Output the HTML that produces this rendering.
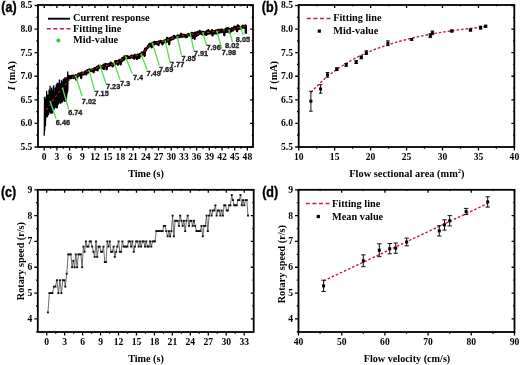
<!DOCTYPE html><html><head><meta charset="utf-8"><title>Figure</title><style>html,body{margin:0;padding:0;background:#fff;width:520px;height:365px;overflow:hidden}</style></head><body><svg width="520" height="365" viewBox="0 0 520 365" style="display:block">
<style>text{font-family:'Liberation Serif', 'Times New Roman', serif;font-weight:bold;fill:#000} .tk{font-size:9.6px} .al{font-size:10.2px} .lg{font-size:10.3px} .pl{font-family:'Liberation Sans', Arial, sans-serif;font-size:14.1px;font-weight:bold;stroke:#000;stroke-width:0.35px} .an{font-family:'Liberation Sans', Arial, sans-serif;font-size:7.3px;font-weight:bold;fill:#1a1a1a;stroke:#1a1a1a;stroke-width:0.3px}</style>
<rect width="520" height="365" fill="#fff"/>
<path d="M44.3 135.7 L44.5 97.5 L44.7 130.5 L45.0 99.8 L45.5 125.8 L45.6 101.7 L45.8 99.4 L45.9 109.2 L46.0 118.0 L46.1 97.0 L46.2 110.0 L46.4 111.2 L46.5 104.5 L46.6 91.4 L46.7 100.1 L46.8 111.9 L46.9 101.3 L47.1 116.4 L47.2 105.3 L47.3 100.6 L47.4 104.0 L47.5 116.7 L47.7 98.7 L47.8 107.1 L47.9 94.8 L48.0 111.8 L48.1 103.1 L48.2 99.6 L48.4 114.0 L48.5 102.9 L48.6 106.7 L48.7 114.6 L48.8 107.5 L49.0 94.4 L49.1 90.1 L49.2 99.8 L49.3 97.9 L49.4 104.0 L49.6 104.9 L49.7 89.9 L49.8 97.6 L49.9 92.2 L50.0 111.7 L50.1 86.1 L50.3 100.0 L50.4 112.7 L50.5 100.2 L50.6 91.3 L50.7 99.5 L50.9 103.6 L51.0 113.3 L51.1 101.9 L51.2 105.6 L51.3 113.3 L51.4 113.0 L51.6 88.2 L51.7 102.3 L51.8 90.4 L51.9 97.8 L52.0 103.9 L52.2 90.5 L52.3 112.2 L52.4 112.8 L52.5 91.4 L52.6 101.6 L52.8 112.2 L52.9 91.5 L53.0 93.1 L53.1 106.9 L53.2 107.3 L53.3 86.9 L53.5 102.8 L53.6 86.5 L53.7 85.7 L53.8 97.5 L53.9 91.7 L54.1 99.9 L54.2 101.0 L54.3 109.2 L54.4 96.9 L54.5 104.1 L54.6 92.7 L54.8 92.7 L54.9 101.6 L55.0 104.9 L55.1 107.2 L55.2 87.8 L55.4 93.9 L55.5 94.1 L55.6 103.3 L55.7 97.2 L55.8 92.6 L56.0 107.6 L56.1 89.0 L56.2 89.8 L56.3 84.8 L56.4 85.6 L56.5 84.5 L56.7 107.8 L56.8 101.8 L56.9 103.4 L57.0 107.2 L57.1 103.7 L57.3 107.5 L57.4 83.1 L57.5 86.4 L57.6 91.6 L57.7 92.5 L57.8 83.6 L58.0 84.9 L58.1 98.4 L58.2 104.3 L58.3 86.1 L58.4 84.3 L58.6 103.6 L58.7 83.6 L58.8 91.6 L58.9 90.6 L59.0 89.1 L59.2 84.7 L59.3 97.8 L59.4 80.0 L59.5 101.9 L59.6 88.9 L59.7 90.5 L59.9 95.9 L60.0 93.8 L60.1 103.0 L60.2 102.1 L60.3 83.6 L60.5 95.6 L60.6 99.7 L60.7 96.5 L60.8 103.0 L60.9 89.7 L61.0 102.9 L61.2 101.4 L61.3 101.3 L61.4 80.7 L61.5 96.5 L61.6 88.1 L61.8 93.5 L61.9 94.4 L62.0 101.6 L62.1 83.6 L62.2 86.2 L62.4 102.0 L62.5 84.0 L62.6 96.5 L62.7 81.9 L62.8 99.8 L62.9 82.7 L63.1 82.7 L63.2 79.2 L63.3 83.2 L63.4 86.5 L63.5 83.6 L63.7 84.5 L63.8 92.7 L63.9 100.8 L64.0 88.6 L64.1 88.4 L64.2 92.2 L64.4 79.6 L64.5 97.6 L64.6 77.9 L64.7 84.3 L64.8 79.6 L65.0 101.4 L65.1 97.5 L65.2 87.2 L65.3 83.3 L65.4 79.7 L65.6 82.8 L65.7 89.1 L65.8 92.5 L65.9 83.8 L66.0 100.9 L66.1 77.3 L66.3 93.4 L66.4 93.7 L66.5 97.6 L66.6 95.6 L66.7 80.7 L66.9 94.1 L67.0 92.4 L67.1 91.9 L67.2 85.1 L67.3 89.1 L67.4 79.0 L67.6 92.0 L67.7 72.0 L67.8 90.0 L67.9 87.6 L68.0 81.3" fill="none" stroke="#000" stroke-width="1.3" stroke-linejoin="round"/>
<path d="M68.2 80.9 L68.5 76.0 L68.8 77.8 L69.0 77.2 L69.3 78.1 L69.6 78.0 L69.9 76.1 L70.2 77.4 L70.5 77.0 L70.8 77.2 L71.1 78.1 L71.4 77.0 L71.7 75.9 L72.0 77.4 L72.3 76.3 L72.6 75.8 L72.9 77.6 L73.2 75.9 L73.5 78.1 L73.8 76.0 L74.1 76.8 L74.4 77.4 L74.7 76.5 L75.0 76.9 L75.3 77.7 L75.6 75.4 L75.9 75.2 L76.2 79.6 L76.5 75.9 L76.8 76.4 L77.0 76.5 L77.3 75.5 L77.6 76.7 L77.9 75.8 L78.2 74.4 L78.5 73.7 L78.8 74.5 L79.1 75.4 L79.4 74.7 L79.7 74.5 L80.0 74.5 L80.3 73.4 L80.6 74.2 L80.9 73.4 L81.2 78.0 L81.5 72.8 L81.8 74.6 L82.1 74.5 L82.4 74.1 L82.7 72.8 L83.0 72.8 L83.3 74.4 L83.6 74.4 L83.9 73.0 L84.2 72.7 L84.5 72.5 L84.8 73.3 L85.0 73.1 L85.3 71.5 L85.6 72.8 L85.9 72.2 L86.2 74.2 L86.5 72.6 L86.8 72.4 L87.1 72.7 L87.4 70.1 L87.7 71.5 L88.0 72.6 L88.3 70.9 L88.6 70.9 L88.9 70.7 L89.2 69.4 L89.5 70.6 L89.8 70.4 L90.1 70.9 L90.4 71.0 L90.7 70.1 L91.0 70.1 L91.3 70.6 L91.6 70.2 L91.9 69.6 L92.2 69.5 L92.5 69.9 L92.8 71.1 L93.0 69.1 L93.3 69.5 L93.6 72.1 L93.9 68.8 L94.2 68.6 L94.5 68.3 L94.8 69.0 L95.1 69.9 L95.4 68.2 L95.7 68.0 L96.0 68.4 L96.3 67.7 L96.6 69.3 L96.9 66.9 L97.2 67.6 L97.5 70.4 L97.8 67.3 L98.1 68.6 L98.4 66.3 L98.7 67.1 L99.0 65.8 L99.3 67.3 L99.6 67.6 L99.9 66.5 L100.2 65.9 L100.5 66.8 L100.8 66.2 L101.0 66.3 L101.3 66.2 L101.6 67.9 L101.9 66.5 L102.2 67.8 L102.5 66.8 L102.8 68.2 L103.1 65.4 L103.4 66.6 L103.7 65.4 L104.0 69.0 L104.3 64.5 L104.6 65.6 L104.9 65.2 L105.2 65.8 L105.5 64.1 L105.8 65.7 L106.1 64.5 L106.4 64.3 L106.7 69.3 L107.0 64.5 L107.3 66.1 L107.6 65.9 L107.9 64.4 L108.2 64.8 L108.5 64.2 L108.8 64.1 L109.0 65.7 L109.3 65.5 L109.6 64.7 L109.9 64.8 L110.2 64.0 L110.5 65.1 L110.8 62.7 L111.1 64.5 L111.4 63.2 L111.7 65.3 L112.0 64.0 L112.3 65.7 L112.6 66.3 L112.9 64.0 L113.2 64.4 L113.5 64.8 L113.8 64.9 L114.1 64.0 L114.4 64.1 L114.7 63.0 L115.0 64.4 L115.3 61.2 L115.6 63.3 L115.9 61.3 L116.2 63.2 L116.5 62.3 L116.8 63.0 L117.0 60.9 L117.3 61.6 L117.6 62.7 L117.9 64.6 L118.2 62.0 L118.5 61.3 L118.8 61.7 L119.1 61.5 L119.4 60.1 L119.7 60.0 L120.0 60.8 L120.3 61.4 L120.6 64.4 L120.9 60.0 L121.2 59.9 L121.5 60.2 L121.8 60.3 L122.1 61.1 L122.4 57.9 L122.7 58.2 L123.0 59.8 L123.3 59.1 L123.6 59.1 L123.9 59.1 L124.2 59.5 L124.5 56.5 L124.8 58.4 L125.1 57.5 L125.3 58.1 L125.6 57.6 L125.9 56.4 L126.2 57.6 L126.5 56.4 L126.8 58.1 L127.1 56.9 L127.4 56.3 L127.7 56.7 L128.0 57.9 L128.3 58.0 L128.6 57.5 L128.9 57.7 L129.2 56.8 L129.5 57.2 L129.8 57.6 L130.1 57.9 L130.4 57.4 L130.7 56.8 L131.0 56.1 L131.3 56.3 L131.6 56.0 L131.9 55.5 L132.2 56.1 L132.5 57.6 L132.8 56.5 L133.1 57.4 L133.3 56.1 L133.6 57.6 L133.9 56.1 L134.2 58.6 L134.5 56.6 L134.8 55.0 L135.1 56.7 L135.4 56.5 L135.7 56.7 L136.0 55.7 L136.3 56.4 L136.6 57.3 L136.9 58.7 L137.2 56.9 L137.5 54.6 L137.8 58.2 L138.1 55.7 L138.4 55.8 L138.7 54.9 L139.0 55.4 L139.3 57.8 L139.6 54.2 L139.9 54.9 L140.2 56.0 L140.5 54.9 L140.8 54.5 L141.1 54.3 L141.3 55.4 L141.6 52.6 L141.9 54.1 L142.2 52.7 L142.5 54.3 L142.8 53.4 L143.1 53.4 L143.4 53.1 L143.7 53.7 L144.0 51.5 L144.3 52.0 L144.6 55.8 L144.9 49.9 L145.2 48.7 L145.5 49.4 L145.8 49.4 L146.1 50.2 L146.4 48.7 L146.7 48.2 L147.0 47.8 L147.3 47.7 L147.6 47.8 L147.9 46.3 L148.2 46.6 L148.5 45.5 L148.8 46.7 L149.1 45.5 L149.3 44.4 L149.6 44.1 L149.9 45.9 L150.2 44.9 L150.5 45.0 L150.8 43.6 L151.1 44.1 L151.4 44.9 L151.7 47.2 L152.0 44.0 L152.3 44.5 L152.6 42.9 L152.9 43.0 L153.2 43.1 L153.5 44.3 L153.8 43.8 L154.1 42.0 L154.4 44.2 L154.7 42.6 L155.0 43.3 L155.3 42.6 L155.6 42.2 L155.9 42.5 L156.2 42.1 L156.5 43.6 L156.8 43.6 L157.1 44.1 L157.3 42.2 L157.6 42.7 L157.9 42.5 L158.2 42.0 L158.5 45.0 L158.8 42.2 L159.1 41.4 L159.4 41.8 L159.7 41.8 L160.0 42.4 L160.3 41.6 L160.6 41.1 L160.9 42.1 L161.2 41.7 L161.5 41.9 L161.8 41.8 L162.1 41.2 L162.4 44.3 L162.7 42.6 L163.0 42.2 L163.3 42.1 L163.6 42.1 L163.9 42.3 L164.2 41.3 L164.5 40.5 L164.8 40.7 L165.1 41.6 L165.3 40.9 L165.6 40.6 L165.9 42.2 L166.2 39.7 L166.5 41.0 L166.8 41.4 L167.1 38.0 L167.4 40.9 L167.7 40.2 L168.0 40.5 L168.3 39.0 L168.6 39.9 L168.9 40.8 L169.2 44.2 L169.5 38.9 L169.8 38.2 L170.1 38.4 L170.4 39.6 L170.7 39.0 L171.0 37.6 L171.3 39.7 L171.6 38.8 L171.9 38.3 L172.2 37.5 L172.5 38.3 L172.8 38.1 L173.1 38.9 L173.3 37.4 L173.6 38.5 L173.9 35.9 L174.2 37.5 L174.5 37.0 L174.8 37.7 L175.1 37.6 L175.4 36.7 L175.7 37.6 L176.0 37.2 L176.3 37.2 L176.6 36.6 L176.9 36.5 L177.2 36.8 L177.5 36.0 L177.8 35.4 L178.1 37.2 L178.4 37.1 L178.7 37.1 L179.0 37.1 L179.3 37.0 L179.6 36.3 L179.9 35.7 L180.2 36.9 L180.5 35.9 L180.8 36.6 L181.1 34.0 L181.3 35.9 L181.6 35.5 L181.9 36.8 L182.2 36.7 L182.5 35.8 L182.8 36.5 L183.1 35.9 L183.4 34.8 L183.7 36.4 L184.0 36.4 L184.3 35.5 L184.6 35.9 L184.9 35.1 L185.2 35.7 L185.5 36.4 L185.8 37.2 L186.1 35.1 L186.4 35.9 L186.7 35.2 L187.0 36.8 L187.3 35.9 L187.6 34.9 L187.9 34.3 L188.2 34.2 L188.5 34.0 L188.8 35.0 L189.1 34.2 L189.3 34.6 L189.6 35.1 L189.9 35.2 L190.2 35.4 L190.5 33.9 L190.8 34.7 L191.1 35.3 L191.4 34.7 L191.7 33.0 L192.0 35.7 L192.3 38.0 L192.6 34.2 L192.9 33.8 L193.2 34.6 L193.5 34.5 L193.8 33.7 L194.1 33.1 L194.4 33.0 L194.7 38.7 L195.0 34.4 L195.3 34.3 L195.6 32.7 L195.9 33.7 L196.2 33.0 L196.5 35.9 L196.8 34.2 L197.1 33.6 L197.3 34.1 L197.6 32.0 L197.9 34.7 L198.2 33.3 L198.5 32.9 L198.8 34.3 L199.1 32.8 L199.4 33.2 L199.7 31.0 L200.0 32.2 L200.3 33.4 L200.6 32.5 L200.9 33.0 L201.2 33.7 L201.5 32.7 L201.8 32.8 L202.1 31.8 L202.4 34.3 L202.7 34.2 L203.0 33.7 L203.3 32.5 L203.6 32.1 L203.9 33.1 L204.2 32.7 L204.5 32.8 L204.8 34.2 L205.1 33.5 L205.4 32.0 L205.6 32.0 L205.9 31.7 L206.2 34.9 L206.5 33.2 L206.8 31.2 L207.1 32.3 L207.4 31.3 L207.7 32.4 L208.0 33.8 L208.3 30.1 L208.6 31.3 L208.9 33.1 L209.2 33.3 L209.5 32.0 L209.8 31.8 L210.1 32.8 L210.4 32.1 L210.7 33.2 L211.0 32.5 L211.3 33.2 L211.6 31.8 L211.9 30.3 L212.2 32.5 L212.5 35.3 L212.8 32.1 L213.1 32.9 L213.4 31.5 L213.6 32.6 L213.9 31.2 L214.2 31.2 L214.5 33.2 L214.8 31.3 L215.1 33.4 L215.4 30.9 L215.7 33.4 L216.0 32.4 L216.3 30.4 L216.6 31.3 L216.9 30.9 L217.2 33.5 L217.5 30.7 L217.8 32.1 L218.1 29.9 L218.4 31.3 L218.7 31.4 L219.0 32.6 L219.3 32.0 L219.6 31.2 L219.9 30.0 L220.2 30.1 L220.5 31.3 L220.8 32.1 L221.1 32.1 L221.4 29.6 L221.6 30.8 L221.9 31.9 L222.2 29.7 L222.5 30.5 L222.8 30.2 L223.1 30.1 L223.4 30.5 L223.7 31.2 L224.0 32.2 L224.3 35.1 L224.6 30.6 L224.9 31.9 L225.2 31.4 L225.5 29.1 L225.8 30.9 L226.1 31.8 L226.4 31.1 L226.7 28.2 L227.0 31.3 L227.3 30.6 L227.6 31.7 L227.9 30.0 L228.2 29.3 L228.5 28.3 L228.8 30.1 L229.1 31.3 L229.4 31.0 L229.6 30.2 L229.9 32.8 L230.2 29.3 L230.5 30.4 L230.8 29.6 L231.1 28.9 L231.4 31.1 L231.7 30.3 L232.0 28.2 L232.3 30.3 L232.6 29.7 L232.9 29.6 L233.2 30.2 L233.5 28.7 L233.8 28.4 L234.1 29.2 L234.4 26.6 L234.7 27.8 L235.0 28.4 L235.3 27.6 L235.6 28.2 L235.9 29.1 L236.2 28.6 L236.5 28.0 L236.8 26.6 L237.1 31.1 L237.4 27.7 L237.6 29.5 L237.9 25.4 L238.2 27.0 L238.5 27.9 L238.8 28.8 L239.1 26.4 L239.4 28.0 L239.7 27.9 L240.0 28.2 L240.3 28.5 L240.6 27.4 L240.9 27.2 L241.2 27.5 L241.5 28.1 L241.8 28.1 L242.1 26.7 L242.4 26.9 L242.7 26.0 L243.0 26.7 L243.3 27.2 L243.6 26.6 L243.9 27.0 L244.2 25.9 L244.5 27.0 L244.8 27.8 L245.1 25.6 L245.4 25.9 L245.6 25.7 L245.8 26.2 L245.9 33.8" fill="none" stroke="#000" stroke-width="2.4" stroke-linejoin="round"/>
<path d="M46.1 109.9 L46.5 109.5 L46.9 109.1 L47.3 108.7 L47.7 108.2 L48.1 107.6 L48.5 107.0 L48.9 106.4 L49.3 105.8 L49.7 105.2 L50.1 104.6 L50.5 104.0 L50.9 103.4 L51.3 102.8 L51.7 102.2 L52.1 101.6 L52.5 101.0 L52.9 100.4 L53.3 99.8 L53.7 99.2 L54.1 98.6 L54.5 98.0 L54.9 97.5 L55.3 96.9 L55.7 96.4 L56.1 95.9 L56.5 95.3 L56.9 94.8 L57.3 94.3 L57.7 93.8 L58.1 93.3 L58.5 92.8 L58.9 92.3 L59.3 91.8 L59.7 91.3 L60.1 90.8 L60.5 90.3 L60.9 89.8 L61.3 89.4 L61.7 88.9 L62.1 88.4 L62.5 88.0 L62.9 87.5 L63.3 87.1 L63.7 86.6 L64.1 86.1 L64.5 85.6 L64.9 85.1 L65.3 84.6 L65.7 84.0 L66.1 83.4 L66.5 82.8 L66.9 82.2 L67.3 81.6 L67.7 81.1 L68.1 80.6 L68.5 80.1 L68.9 79.7 L69.3 79.3 L69.7 78.9 L70.1 78.6 L70.5 78.4 L70.9 78.2 L71.2 78.0 L71.6 77.9 L72.0 77.7 L72.4 77.5 L72.8 77.4 L73.2 77.2 L73.6 77.0 L74.0 76.9 L74.4 76.7 L74.8 76.5 L75.2 76.4 L75.6 76.2 L76.0 76.0 L76.4 75.9 L76.8 75.7 L77.2 75.5 L77.6 75.4 L78.0 75.2 L78.4 75.0 L78.8 74.9 L79.2 74.7 L79.6 74.5 L80.0 74.4 L80.4 74.2 L80.8 74.0 L81.2 73.9 L81.6 73.7 L82.0 73.5 L82.4 73.4 L82.8 73.2 L83.2 73.0 L83.6 72.9 L84.0 72.7 L84.4 72.5 L84.8 72.4 L85.2 72.2 L85.6 72.0 L86.0 71.9 L86.4 71.7 L86.8 71.5 L87.2 71.4 L87.6 71.2 L88.0 71.0 L88.4 70.9 L88.8 70.7 L89.2 70.6 L89.6 70.4 L90.0 70.3 L90.4 70.1 L90.8 70.0 L91.2 69.9 L91.6 69.7 L92.0 69.6 L92.4 69.4 L92.8 69.3 L93.2 69.2 L93.6 69.0 L94.0 68.9 L94.4 68.8 L94.8 68.6 L95.2 68.5 L95.6 68.3 L96.0 68.2 L96.4 68.1 L96.8 67.9 L97.2 67.8 L97.6 67.7 L98.0 67.5 L98.4 67.4 L98.8 67.3 L99.2 67.1 L99.6 67.0 L100.0 66.9 L100.4 66.8 L100.8 66.7 L101.2 66.6 L101.6 66.5 L102.0 66.4 L102.4 66.3 L102.8 66.3 L103.2 66.2 L103.6 66.1 L104.0 66.0 L104.4 65.9 L104.8 65.9 L105.2 65.8 L105.6 65.7 L106.0 65.6 L106.4 65.5 L106.8 65.5 L107.2 65.4 L107.6 65.3 L108.0 65.2 L108.4 65.1 L108.8 65.1 L109.2 65.0 L109.6 64.9 L110.0 64.8 L110.4 64.7 L110.8 64.6 L111.2 64.6 L111.6 64.5 L112.0 64.4 L112.4 64.3 L112.8 64.2 L113.2 64.1 L113.6 64.0 L114.0 63.8 L114.4 63.7 L114.8 63.5 L115.2 63.3 L115.6 63.2 L116.0 63.0 L116.4 62.7 L116.7 62.5 L117.1 62.3 L117.5 62.1 L117.9 61.9 L118.3 61.7 L118.7 61.5 L119.1 61.2 L119.5 61.0 L119.9 60.8 L120.3 60.6 L120.7 60.4 L121.1 60.2 L121.5 60.0 L121.9 59.7 L122.3 59.5 L122.7 59.3 L123.1 59.1 L123.5 58.9 L123.9 58.7 L124.3 58.5 L124.7 58.3 L125.1 58.2 L125.5 58.0 L125.9 57.9 L126.3 57.7 L126.7 57.6 L127.1 57.5 L127.5 57.4 L127.9 57.3 L128.3 57.2 L128.7 57.2 L129.1 57.1 L129.5 57.0 L129.9 56.9 L130.3 56.8 L130.7 56.7 L131.1 56.7 L131.5 56.6 L131.9 56.5 L132.3 56.4 L132.7 56.3 L133.1 56.2 L133.5 56.2 L133.9 56.1 L134.3 56.0 L134.7 55.9 L135.1 55.8 L135.5 55.7 L135.9 55.6 L136.3 55.6 L136.7 55.5 L137.1 55.4 L137.5 55.3 L137.9 55.2 L138.3 55.1 L138.7 55.1 L139.1 55.0 L139.5 54.9 L139.9 54.8 L140.3 54.7 L140.7 54.6 L141.1 54.5 L141.5 54.3 L141.9 54.1 L142.3 53.8 L142.7 53.5 L143.1 53.1 L143.5 52.7 L143.9 52.3 L144.3 51.8 L144.7 51.2 L145.1 50.7 L145.5 50.1 L145.9 49.6 L146.3 49.0 L146.7 48.5 L147.1 48.0 L147.5 47.5 L147.9 47.1 L148.3 46.6 L148.7 46.3 L149.1 45.9 L149.5 45.6 L149.9 45.3 L150.3 45.0 L150.7 44.8 L151.1 44.5 L151.5 44.3 L151.9 44.2 L152.3 44.0 L152.7 43.9 L153.1 43.8 L153.5 43.6 L153.9 43.5 L154.3 43.4 L154.7 43.3 L155.1 43.2 L155.5 43.1 L155.9 43.0 L156.3 42.9 L156.7 42.8 L157.1 42.7 L157.5 42.6 L157.9 42.5 L158.3 42.4 L158.7 42.3 L159.1 42.2 L159.5 42.2 L159.9 42.1 L160.3 42.0 L160.7 41.9 L161.1 41.8 L161.5 41.7 L161.9 41.6 L162.2 41.5 L162.6 41.4 L163.0 41.3 L163.4 41.2 L163.8 41.1 L164.2 41.0 L164.6 40.9 L165.0 40.8 L165.4 40.6 L165.8 40.5 L166.2 40.4 L166.6 40.3 L167.0 40.1 L167.4 40.0 L167.8 39.9 L168.2 39.7 L168.6 39.6 L169.0 39.5 L169.4 39.3 L169.8 39.2 L170.2 39.1 L170.6 38.9 L171.0 38.8 L171.4 38.7 L171.8 38.5 L172.2 38.4 L172.6 38.3 L173.0 38.1 L173.4 38.0 L173.8 37.9 L174.2 37.7 L174.6 37.6 L175.0 37.5 L175.4 37.3 L175.8 37.2 L176.2 37.1 L176.6 37.0 L177.0 36.9 L177.4 36.8 L177.8 36.7 L178.2 36.6 L178.6 36.5 L179.0 36.4 L179.4 36.3 L179.8 36.3 L180.2 36.2 L180.6 36.2 L181.0 36.1 L181.4 36.0 L181.8 36.0 L182.2 35.9 L182.6 35.8 L183.0 35.8 L183.4 35.7 L183.8 35.7 L184.2 35.6 L184.6 35.5 L185.0 35.5 L185.4 35.4 L185.8 35.4 L186.2 35.3 L186.6 35.2 L187.0 35.2 L187.4 35.1 L187.8 35.0 L188.2 35.0 L188.6 34.9 L189.0 34.9 L189.4 34.8 L189.8 34.8 L190.2 34.7 L190.6 34.6 L191.0 34.6 L191.4 34.5 L191.8 34.5 L192.2 34.4 L192.6 34.4 L193.0 34.3 L193.4 34.3 L193.8 34.2 L194.2 34.2 L194.6 34.1 L195.0 34.0 L195.4 34.0 L195.8 33.9 L196.2 33.9 L196.6 33.8 L197.0 33.8 L197.4 33.7 L197.8 33.7 L198.2 33.6 L198.6 33.6 L199.0 33.5 L199.4 33.5 L199.8 33.4 L200.2 33.4 L200.6 33.3 L201.0 33.3 L201.4 33.2 L201.8 33.1 L202.2 33.1 L202.6 33.0 L203.0 33.0 L203.4 32.9 L203.8 32.9 L204.2 32.9 L204.6 32.8 L205.0 32.8 L205.4 32.7 L205.8 32.7 L206.2 32.6 L206.6 32.6 L207.0 32.5 L207.4 32.5 L207.7 32.4 L208.1 32.4 L208.5 32.3 L208.9 32.3 L209.3 32.3 L209.7 32.2 L210.1 32.2 L210.5 32.1 L210.9 32.1 L211.3 32.0 L211.7 32.0 L212.1 31.9 L212.5 31.9 L212.9 31.8 L213.3 31.8 L213.7 31.8 L214.1 31.7 L214.5 31.7 L214.9 31.6 L215.3 31.6 L215.7 31.5 L216.1 31.5 L216.5 31.4 L216.9 31.4 L217.3 31.4 L217.7 31.3 L218.1 31.3 L218.5 31.2 L218.9 31.2 L219.3 31.2 L219.7 31.1 L220.1 31.1 L220.5 31.1 L220.9 31.0 L221.3 31.0 L221.7 30.9 L222.1 30.9 L222.5 30.9 L222.9 30.8 L223.3 30.8 L223.7 30.8 L224.1 30.7 L224.5 30.7 L224.9 30.6 L225.3 30.6 L225.7 30.6 L226.1 30.5 L226.5 30.5 L226.9 30.5 L227.3 30.4 L227.7 30.4 L228.1 30.3 L228.5 30.3 L228.9 30.2 L229.3 30.1 L229.7 30.1 L230.1 30.0 L230.5 29.9 L230.9 29.8 L231.3 29.7 L231.7 29.6 L232.1 29.5 L232.5 29.4 L232.9 29.3 L233.3 29.2 L233.7 29.1 L234.1 29.0 L234.5 28.9 L234.9 28.8 L235.3 28.7 L235.7 28.6 L236.1 28.5 L236.5 28.4 L236.9 28.3 L237.3 28.1 L237.7 28.0 L238.1 27.9 L238.5 27.8 L238.9 27.7 L239.3 27.6 L239.7 27.5 L240.1 27.4 L240.5 27.3 L240.9 27.2 L241.3 27.1 L241.7 27.1 L242.1 27.0 L242.5 26.9 L242.9 26.8 L243.3 26.7 L243.7 26.6 L244.1 26.5 L244.5 26.5 L244.9 26.4 L245.3 26.4" fill="none" stroke="#a81515" stroke-width="1.3" stroke-dasharray="2.8 2.4"/>
<path d="M50.3 101.8L56.2 119M62.7 88.7L68.7 109.3M75.6 76.3L82.2 96M89.2 70.6L94.5 90.3M100.2 65.7L106 83.7M114.2 63.2L120 79.6M125.6 57.1L132.2 73.5M141.2 54.6L147 69.4M152.5 43.6L159.3 65.3M165.2 41.2L170 62M177.3 36.9L181.5 55.2M190.3 33.8L193.8 50.3M202.9 33L206.5 45.4M216.9 31.4L221.8 48.7M229.2 30.6L232.5 42M240.7 27.3L243.2 34.7" stroke="#55dd55" stroke-width="1.3" fill="none"/>
<circle cx="50.3" cy="101.8" r="1.0" fill="#3cc83c"/>
<circle cx="62.7" cy="88.7" r="1.0" fill="#3cc83c"/>
<circle cx="75.6" cy="76.3" r="1.0" fill="#3cc83c"/>
<circle cx="89.2" cy="70.6" r="1.0" fill="#3cc83c"/>
<circle cx="100.2" cy="65.7" r="1.0" fill="#3cc83c"/>
<circle cx="114.2" cy="63.2" r="1.0" fill="#3cc83c"/>
<circle cx="125.6" cy="57.1" r="1.0" fill="#3cc83c"/>
<circle cx="141.2" cy="54.6" r="1.0" fill="#3cc83c"/>
<circle cx="152.5" cy="43.6" r="1.0" fill="#3cc83c"/>
<circle cx="165.2" cy="41.2" r="1.0" fill="#3cc83c"/>
<circle cx="177.3" cy="36.9" r="1.0" fill="#3cc83c"/>
<circle cx="190.3" cy="33.8" r="1.0" fill="#3cc83c"/>
<circle cx="202.9" cy="33" r="1.0" fill="#3cc83c"/>
<circle cx="216.9" cy="31.4" r="1.0" fill="#3cc83c"/>
<circle cx="229.2" cy="30.6" r="1.0" fill="#3cc83c"/>
<circle cx="240.7" cy="27.3" r="1.0" fill="#3cc83c"/>
<text x="55.8" y="124.8" class="an">6.46</text>
<text x="68.2" y="115.1" class="an">6.74</text>
<text x="81.8" y="103.6" class="an">7.02</text>
<text x="94.5" y="96.2" class="an">7.15</text>
<text x="106" y="88.8" class="an">7.23</text>
<text x="120" y="85.5" class="an">7.3</text>
<text x="133" y="80.2" class="an">7.4</text>
<text x="146.5" y="75.6" class="an">7.49</text>
<text x="159" y="72.0" class="an">7.69</text>
<text x="170" y="67.4" class="an">7.77</text>
<text x="181.5" y="61.4" class="an">7.85</text>
<text x="193.8" y="55.7" class="an">7.91</text>
<text x="206.5" y="49.6" class="an">7.96</text>
<text x="221.8" y="55.0" class="an">7.98</text>
<text x="225.1" y="47.5" class="an">8.02</text>
<text x="235.8" y="42.2" class="an">8.05</text>
<rect x="38" y="5" width="215" height="142" fill="none" stroke="#000" stroke-width="1.8"/>
<path d="M44.2 147V150.5M44.2 5V7.9M56.9 147V150.5M56.9 5V7.9M69.6 147V150.5M69.6 5V7.9M82.3 147V150.5M82.3 5V7.9M95 147V150.5M95 5V7.9M107.69 147V150.5M107.69 5V7.9M120.39 147V150.5M120.39 5V7.9M133.09 147V150.5M133.09 5V7.9M145.79 147V150.5M145.79 5V7.9M158.49 147V150.5M158.49 5V7.9M171.19 147V150.5M171.19 5V7.9M183.89 147V150.5M183.89 5V7.9M196.59 147V150.5M196.59 5V7.9M209.29 147V150.5M209.29 5V7.9M221.99 147V150.5M221.99 5V7.9M234.69 147V150.5M234.69 5V7.9M247.38 147V150.5M247.38 5V7.9M50.55 147V148.7M50.55 5V6.3M63.25 147V148.7M63.25 5V6.3M75.95 147V148.7M75.95 5V6.3M88.65 147V148.7M88.65 5V6.3M101.35 147V148.7M101.35 5V6.3M114.04 147V148.7M114.04 5V6.3M126.74 147V148.7M126.74 5V6.3M139.44 147V148.7M139.44 5V6.3M152.14 147V148.7M152.14 5V6.3M164.84 147V148.7M164.84 5V6.3M177.54 147V148.7M177.54 5V6.3M190.24 147V148.7M190.24 5V6.3M202.94 147V148.7M202.94 5V6.3M215.64 147V148.7M215.64 5V6.3M228.34 147V148.7M228.34 5V6.3M241.03 147V148.7M241.03 5V6.3M38 147H34.5M253 147H250.1M38 123.41H34.5M253 123.41H250.1M38 99.83H34.5M253 99.83H250.1M38 76.25H34.5M253 76.25H250.1M38 52.66H34.5M253 52.66H250.1M38 29.07H34.5M253 29.07H250.1M38 5.49H34.5M253 5.49H250.1M38 135.21H36.3M253 135.21H251.7M38 111.62H36.3M253 111.62H251.7M38 88.04H36.3M253 88.04H251.7M38 64.45H36.3M253 64.45H251.7M38 40.87H36.3M253 40.87H251.7M38 17.28H36.3M253 17.28H251.7" stroke="#000" stroke-width="1.3" fill="none"/>
<text x="44.2" y="159.9" text-anchor="middle" class="tk">0</text>
<text x="56.9" y="159.9" text-anchor="middle" class="tk">3</text>
<text x="69.6" y="159.9" text-anchor="middle" class="tk">6</text>
<text x="82.3" y="159.9" text-anchor="middle" class="tk">9</text>
<text x="95" y="159.9" text-anchor="middle" class="tk">12</text>
<text x="107.69" y="159.9" text-anchor="middle" class="tk">15</text>
<text x="120.39" y="159.9" text-anchor="middle" class="tk">18</text>
<text x="133.09" y="159.9" text-anchor="middle" class="tk">21</text>
<text x="145.79" y="159.9" text-anchor="middle" class="tk">24</text>
<text x="158.49" y="159.9" text-anchor="middle" class="tk">27</text>
<text x="171.19" y="159.9" text-anchor="middle" class="tk">30</text>
<text x="183.89" y="159.9" text-anchor="middle" class="tk">33</text>
<text x="196.59" y="159.9" text-anchor="middle" class="tk">36</text>
<text x="209.29" y="159.9" text-anchor="middle" class="tk">39</text>
<text x="221.99" y="159.9" text-anchor="middle" class="tk">42</text>
<text x="234.69" y="159.9" text-anchor="middle" class="tk">45</text>
<text x="247.38" y="159.9" text-anchor="middle" class="tk">48</text>
<text x="32.4" y="149.9" text-anchor="end" class="tk">5.5</text>
<text x="32.4" y="126.31" text-anchor="end" class="tk">6.0</text>
<text x="32.4" y="102.73" text-anchor="end" class="tk">6.5</text>
<text x="32.4" y="79.15" text-anchor="end" class="tk">7.0</text>
<text x="32.4" y="55.56" text-anchor="end" class="tk">7.5</text>
<text x="32.4" y="31.97" text-anchor="end" class="tk">8.0</text>
<text x="32.4" y="8.39" text-anchor="end" class="tk">8.5</text>
<path d="M48 18.7H70" stroke="#000" stroke-width="1.9"/>
<path d="M46.8 28.7H70.5" stroke="#c81e3c" stroke-width="1.5" stroke-dasharray="4 2.6"/>
<circle cx="58.4" cy="40.4" r="2" fill="#2ed02e"/>
<text x="73" y="20.8" class="lg">Current response</text>
<text x="73" y="31.9" class="lg">Fitting line</text>
<text x="73" y="42.9" class="lg">Mid-value</text>
<text x="146" y="176.7" text-anchor="middle" class="al">Time (s)</text>
<text transform="translate(14.9 75.6) rotate(-90)" text-anchor="middle" class="al"><tspan font-style="italic">I</tspan> (mA)</text>
<text transform="translate(1.3 11.5) scale(0.89 1)" class="pl">(a)</text>
<rect x="298.7" y="5" width="215.6" height="142" fill="none" stroke="#000" stroke-width="1.8"/>
<path d="M298.7 147V150.5M298.7 5V7.9M334.65 147V150.5M334.65 5V7.9M370.6 147V150.5M370.6 5V7.9M406.55 147V150.5M406.55 5V7.9M442.5 147V150.5M442.5 5V7.9M478.45 147V150.5M478.45 5V7.9M514.4 147V150.5M514.4 5V7.9M316.68 147V148.7M316.68 5V6.3M352.62 147V148.7M352.62 5V6.3M388.57 147V148.7M388.57 5V6.3M424.52 147V148.7M424.52 5V6.3M460.48 147V148.7M460.48 5V6.3M496.43 147V148.7M496.43 5V6.3M298.7 147H295.2M514.3 147H511.4M298.7 123.41H295.2M514.3 123.41H511.4M298.7 99.83H295.2M514.3 99.83H511.4M298.7 76.25H295.2M514.3 76.25H511.4M298.7 52.66H295.2M514.3 52.66H511.4M298.7 29.07H295.2M514.3 29.07H511.4M298.7 5.49H295.2M514.3 5.49H511.4M298.7 135.21H297M514.3 135.21H513M298.7 111.62H297M514.3 111.62H513M298.7 88.04H297M514.3 88.04H513M298.7 64.45H297M514.3 64.45H513M298.7 40.87H297M514.3 40.87H513M298.7 17.28H297M514.3 17.28H513" stroke="#000" stroke-width="1.3" fill="none"/>
<text x="298.7" y="159.9" text-anchor="middle" class="tk">10</text>
<text x="334.65" y="159.9" text-anchor="middle" class="tk">15</text>
<text x="370.6" y="159.9" text-anchor="middle" class="tk">20</text>
<text x="406.55" y="159.9" text-anchor="middle" class="tk">25</text>
<text x="442.5" y="159.9" text-anchor="middle" class="tk">30</text>
<text x="478.45" y="159.9" text-anchor="middle" class="tk">35</text>
<text x="514.4" y="159.9" text-anchor="middle" class="tk">40</text>
<text x="293" y="149.9" text-anchor="end" class="tk">5.5</text>
<text x="293" y="126.31" text-anchor="end" class="tk">6.0</text>
<text x="293" y="102.73" text-anchor="end" class="tk">6.5</text>
<text x="293" y="79.15" text-anchor="end" class="tk">7.0</text>
<text x="293" y="55.56" text-anchor="end" class="tk">7.5</text>
<text x="293" y="31.97" text-anchor="end" class="tk">8.0</text>
<text x="293" y="8.39" text-anchor="end" class="tk">8.5</text>
<path d="M310.9 92.5 L313.9 89.2 L316.8 86.2 L319.8 83.3 L322.8 80.5 L325.7 77.9 L328.7 75.5 L331.7 73.2 L334.6 71.0 L337.6 68.9 L340.5 66.9 L343.5 65.0 L346.5 63.2 L349.4 61.4 L352.4 59.8 L355.3 58.2 L358.3 56.7 L361.3 55.3 L364.2 53.9 L367.2 52.6 L370.1 51.3 L373.1 50.1 L376.1 49.0 L379.0 47.9 L382.0 46.8 L385.0 45.8 L387.9 44.8 L390.9 43.9 L393.8 43.0 L396.8 42.1 L399.8 41.3 L402.7 40.5 L405.7 39.7 L408.6 38.9 L411.6 38.2 L414.6 37.5 L417.5 36.9 L420.5 36.2 L423.5 35.6 L426.4 35.0 L429.4 34.5 L432.3 33.9 L435.3 33.4 L438.3 32.9 L441.2 32.4 L444.2 31.9 L447.1 31.5 L450.1 31.0 L453.1 30.6 L456.0 30.2 L459.0 29.8 L461.9 29.4 L464.9 29.0 L467.9 28.7 L470.8 28.4 L473.8 28.0 L476.8 27.7 L479.7 27.4 L482.7 27.1 L485.6 26.8" fill="none" stroke="#c41e3a" stroke-width="1.4" stroke-dasharray="2.6 1.9"/>
<path d="M310.9 91.3V111.2M309.1 91.3h3.6M309.1 111.2h3.6M320.6 84.7V93.2M318.8 84.7h3.6M318.8 93.2h3.6M327.5 72.5V77.2M325.7 72.5h3.6M325.7 77.2h3.6M336.8 67.8V70.6M335.0 67.8h3.6M335.0 70.6h3.6M346.2 63.5V66.3M344.4 63.5h3.6M344.4 66.3h3.6M356.2 60.7V63.5M354.4 60.7h3.6M354.4 63.5h3.6M361.3 56.0V58.8M359.5 56.0h3.6M359.5 58.8h3.6M366.3 50.8V54.5M364.5 50.8h3.6M364.5 54.5h3.6M387.9 40.9V45.6M386.1 40.9h3.6M386.1 45.6h3.6M411.6 38.5V40.4M409.8 38.5h3.6M409.8 40.4h3.6M430.3 33.8V37.6M428.5 33.8h3.6M428.5 37.6h3.6M432.4 31.0V34.7M430.6 31.0h3.6M430.6 34.7h3.6M451.8 30.0V31.9M450.0 30.0h3.6M450.0 31.9h3.6M470.5 29.1V31.0M468.7 29.1h3.6M468.7 31.0h3.6M480.6 26.2V29.1M478.8 26.2h3.6M478.8 29.1h3.6M485.6 25.3V27.2M483.8 25.3h3.6M483.8 27.2h3.6" stroke="#111" stroke-width="1" fill="none"/>
<rect x="309.4" y="99.7" width="3" height="3" fill="#000"/>
<rect x="319.1" y="87.5" width="3" height="3" fill="#000"/>
<rect x="326.0" y="73.3" width="3" height="3" fill="#000"/>
<rect x="335.3" y="67.7" width="3" height="3" fill="#000"/>
<rect x="344.7" y="63.4" width="3" height="3" fill="#000"/>
<rect x="354.7" y="60.6" width="3" height="3" fill="#000"/>
<rect x="359.8" y="55.9" width="3" height="3" fill="#000"/>
<rect x="364.8" y="51.2" width="3" height="3" fill="#000"/>
<rect x="386.4" y="41.7" width="3" height="3" fill="#000"/>
<rect x="410.1" y="38.0" width="3" height="3" fill="#000"/>
<rect x="428.8" y="34.2" width="3" height="3" fill="#000"/>
<rect x="430.9" y="31.3" width="3" height="3" fill="#000"/>
<rect x="450.3" y="29.5" width="3" height="3" fill="#000"/>
<rect x="469.0" y="28.5" width="3" height="3" fill="#000"/>
<rect x="479.1" y="26.2" width="3" height="3" fill="#000"/>
<rect x="484.1" y="24.7" width="3" height="3" fill="#000"/>
<path d="M306.8 18.5H330.5" stroke="#c81e3c" stroke-width="1.5" stroke-dasharray="4 2.6"/>
<rect x="317.7" y="29.5" width="3.2" height="3.2" fill="#000"/>
<text x="333.2" y="21.3" class="lg">Fitting line</text>
<text x="333.2" y="33.8" class="lg">Mid-value</text>
<text x="406.9" y="176.9" text-anchor="middle" class="al" style="font-size:10.4px">Flow sectional area (mm<tspan font-size="6.5px" dy="-4">2</tspan><tspan dy="4">)</tspan></text>
<text transform="translate(276.5 75.6) rotate(-90)" text-anchor="middle" class="al"><tspan font-style="italic">I</tspan> (mA)</text>
<text transform="translate(261.8 11.5) scale(0.89 1)" class="pl">(b)</text>
<rect x="37.8" y="189.8" width="215.9" height="142.2" fill="none" stroke="#000" stroke-width="1.8"/>
<path d="M46.7 332V335.5M46.7 189.8V192.7M64.66 332V335.5M64.66 189.8V192.7M82.61 332V335.5M82.61 189.8V192.7M100.56 332V335.5M100.56 189.8V192.7M118.52 332V335.5M118.52 189.8V192.7M136.48 332V335.5M136.48 189.8V192.7M154.43 332V335.5M154.43 189.8V192.7M172.38 332V335.5M172.38 189.8V192.7M190.34 332V335.5M190.34 189.8V192.7M208.3 332V335.5M208.3 189.8V192.7M226.25 332V335.5M226.25 189.8V192.7M244.21 332V335.5M244.21 189.8V192.7M55.68 332V333.7M55.68 189.8V191.1M73.63 332V333.7M73.63 189.8V191.1M91.59 332V333.7M91.59 189.8V191.1M109.54 332V333.7M109.54 189.8V191.1M127.5 332V333.7M127.5 189.8V191.1M145.45 332V333.7M145.45 189.8V191.1M163.41 332V333.7M163.41 189.8V191.1M181.36 332V333.7M181.36 189.8V191.1M199.32 332V333.7M199.32 189.8V191.1M217.27 332V333.7M217.27 189.8V191.1M235.23 332V333.7M235.23 189.8V191.1M37.8 318.9H34.3M253.7 318.9H250.8M37.8 293.08H34.3M253.7 293.08H250.8M37.8 267.26H34.3M253.7 267.26H250.8M37.8 241.44H34.3M253.7 241.44H250.8M37.8 215.62H34.3M253.7 215.62H250.8M37.8 189.8H34.3M253.7 189.8H250.8M37.8 331.81H36.1M253.7 331.81H252.4M37.8 305.99H36.1M253.7 305.99H252.4M37.8 280.17H36.1M253.7 280.17H252.4M37.8 254.35H36.1M253.7 254.35H252.4M37.8 228.53H36.1M253.7 228.53H252.4M37.8 202.71H36.1M253.7 202.71H252.4" stroke="#000" stroke-width="1.3" fill="none"/>
<text x="46.7" y="345.3" text-anchor="middle" class="tk">0</text>
<text x="64.66" y="345.3" text-anchor="middle" class="tk">3</text>
<text x="82.61" y="345.3" text-anchor="middle" class="tk">6</text>
<text x="100.56" y="345.3" text-anchor="middle" class="tk">9</text>
<text x="118.52" y="345.3" text-anchor="middle" class="tk">12</text>
<text x="136.48" y="345.3" text-anchor="middle" class="tk">15</text>
<text x="154.43" y="345.3" text-anchor="middle" class="tk">18</text>
<text x="172.38" y="345.3" text-anchor="middle" class="tk">21</text>
<text x="190.34" y="345.3" text-anchor="middle" class="tk">24</text>
<text x="208.3" y="345.3" text-anchor="middle" class="tk">27</text>
<text x="226.25" y="345.3" text-anchor="middle" class="tk">30</text>
<text x="244.21" y="345.3" text-anchor="middle" class="tk">33</text>
<text x="32.3" y="321.8" text-anchor="end" class="tk">4</text>
<text x="32.3" y="295.98" text-anchor="end" class="tk">5</text>
<text x="32.3" y="270.16" text-anchor="end" class="tk">6</text>
<text x="32.3" y="244.34" text-anchor="end" class="tk">7</text>
<text x="32.3" y="218.52" text-anchor="end" class="tk">8</text>
<text x="32.3" y="192.7" text-anchor="end" class="tk">9</text>
<path d="M47.9 312.4 L49.4 293.1 L50.9 293.1 L52.4 293.1 L53.9 286.6 L55.4 286.6 L56.9 280.2 L58.4 293.1 L59.9 280.2 L61.4 293.1 L62.9 280.2 L64.4 280.2 L65.3 286.6 L66.7 273.7 L68.2 254.4 L69.6 254.4 L70.8 254.4 L72.1 267.3 L73.3 260.8 L74.6 267.3 L75.8 254.4 L77.1 267.3 L78.4 254.4 L79.6 254.4 L80.9 254.4 L82.1 267.3 L83.4 246.6 L84.6 251.8 L85.9 241.4 L87.2 246.6 L88.4 246.6 L89.7 241.4 L90.9 241.4 L92.2 246.6 L93.4 251.8 L94.7 256.9 L96.0 241.4 L97.2 256.9 L98.5 246.6 L99.7 246.6 L101.0 251.8 L102.2 251.8 L103.5 246.6 L104.8 262.1 L106.0 262.1 L107.3 241.4 L108.5 246.6 L109.8 241.4 L111.0 251.8 L112.3 251.8 L113.6 246.6 L114.8 256.9 L116.1 251.8 L117.3 246.6 L118.6 241.4 L119.8 251.8 L121.1 251.8 L122.4 241.4 L123.6 246.6 L124.9 246.6 L126.1 246.6 L127.4 246.6 L128.6 241.4 L129.9 241.4 L131.1 246.6 L132.4 241.4 L133.7 251.8 L134.9 246.6 L136.2 241.4 L137.4 241.4 L138.7 246.6 L139.9 241.4 L141.2 246.6 L142.5 241.4 L143.7 241.4 L145.0 246.6 L146.2 241.4 L147.5 246.6 L148.7 246.6 L150.0 241.4 L151.3 246.6 L152.5 241.4 L153.8 241.4 L155.0 241.4 L156.3 231.1 L157.5 231.1 L158.8 231.1 L160.1 231.1 L161.3 231.1 L162.6 231.1 L163.8 225.9 L165.1 225.9 L166.3 231.1 L167.6 236.3 L168.9 231.1 L170.1 236.3 L171.4 231.1 L172.6 215.6 L173.9 236.3 L175.1 220.8 L176.4 220.8 L177.7 220.8 L178.9 225.9 L180.2 215.6 L181.4 220.8 L182.7 225.9 L183.9 220.8 L185.2 231.1 L186.4 220.8 L187.7 215.6 L189.0 225.9 L190.2 220.8 L191.5 220.8 L192.7 225.9 L194.0 220.8 L195.2 225.9 L196.5 231.1 L197.8 231.1 L199.0 231.1 L200.3 231.1 L201.5 225.9 L202.8 236.3 L204.0 225.9 L205.3 225.9 L206.6 215.6 L207.8 231.1 L209.1 215.6 L210.3 210.5 L211.6 215.6 L212.8 210.5 L214.1 210.5 L215.4 205.3 L216.6 215.6 L217.9 210.5 L219.1 210.5 L220.4 215.6 L221.6 210.5 L222.9 215.6 L224.2 205.3 L225.4 205.3 L226.7 210.5 L227.9 210.5 L229.2 205.3 L230.4 205.3 L231.7 195.0 L233.0 200.1 L234.2 205.3 L235.5 205.3 L236.7 205.3 L238.0 200.1 L239.2 200.1 L240.5 195.0 L241.8 205.3 L243.0 200.1 L244.3 205.3 L245.5 200.1 L246.8 200.1 L248.0 215.6" fill="none" stroke="#5a5a5a" stroke-width="0.9"/>
<g fill="#111"><rect x="46.9" y="311.5" width="2" height="1.8"/><rect x="48.4" y="292.2" width="2" height="1.8"/><rect x="49.9" y="292.2" width="2" height="1.8"/><rect x="51.4" y="292.2" width="2" height="1.8"/><rect x="52.9" y="285.7" width="2" height="1.8"/><rect x="54.4" y="285.7" width="2" height="1.8"/><rect x="55.9" y="279.3" width="2" height="1.8"/><rect x="57.4" y="292.2" width="2" height="1.8"/><rect x="58.9" y="279.3" width="2" height="1.8"/><rect x="60.4" y="292.2" width="2" height="1.8"/><rect x="61.9" y="279.3" width="2" height="1.8"/><rect x="63.4" y="279.3" width="2" height="1.8"/><rect x="64.3" y="285.7" width="2" height="1.8"/><rect x="65.7" y="272.8" width="2" height="1.8"/><rect x="67.2" y="253.5" width="2" height="1.8"/><rect x="68.6" y="253.5" width="2" height="1.8"/><rect x="69.8" y="253.5" width="2" height="1.8"/><rect x="71.1" y="266.4" width="2" height="1.8"/><rect x="72.3" y="259.9" width="2" height="1.8"/><rect x="73.6" y="266.4" width="2" height="1.8"/><rect x="74.8" y="253.5" width="2" height="1.8"/><rect x="76.1" y="266.4" width="2" height="1.8"/><rect x="77.4" y="253.5" width="2" height="1.8"/><rect x="78.6" y="253.5" width="2" height="1.8"/><rect x="79.9" y="253.5" width="2" height="1.8"/><rect x="81.1" y="266.4" width="2" height="1.8"/><rect x="82.4" y="245.7" width="2" height="1.8"/><rect x="83.6" y="250.9" width="2" height="1.8"/><rect x="84.9" y="240.5" width="2" height="1.8"/><rect x="86.2" y="245.7" width="2" height="1.8"/><rect x="87.4" y="245.7" width="2" height="1.8"/><rect x="88.7" y="240.5" width="2" height="1.8"/><rect x="89.9" y="240.5" width="2" height="1.8"/><rect x="91.2" y="245.7" width="2" height="1.8"/><rect x="92.4" y="250.9" width="2" height="1.8"/><rect x="93.7" y="256.0" width="2" height="1.8"/><rect x="95.0" y="240.5" width="2" height="1.8"/><rect x="96.2" y="256.0" width="2" height="1.8"/><rect x="97.5" y="245.7" width="2" height="1.8"/><rect x="98.7" y="245.7" width="2" height="1.8"/><rect x="100.0" y="250.9" width="2" height="1.8"/><rect x="101.2" y="250.9" width="2" height="1.8"/><rect x="102.5" y="245.7" width="2" height="1.8"/><rect x="103.8" y="261.2" width="2" height="1.8"/><rect x="105.0" y="261.2" width="2" height="1.8"/><rect x="106.3" y="240.5" width="2" height="1.8"/><rect x="107.5" y="245.7" width="2" height="1.8"/><rect x="108.8" y="240.5" width="2" height="1.8"/><rect x="110.0" y="250.9" width="2" height="1.8"/><rect x="111.3" y="250.9" width="2" height="1.8"/><rect x="112.6" y="245.7" width="2" height="1.8"/><rect x="113.8" y="256.0" width="2" height="1.8"/><rect x="115.1" y="250.9" width="2" height="1.8"/><rect x="116.3" y="245.7" width="2" height="1.8"/><rect x="117.6" y="240.5" width="2" height="1.8"/><rect x="118.8" y="250.9" width="2" height="1.8"/><rect x="120.1" y="250.9" width="2" height="1.8"/><rect x="121.4" y="240.5" width="2" height="1.8"/><rect x="122.6" y="245.7" width="2" height="1.8"/><rect x="123.9" y="245.7" width="2" height="1.8"/><rect x="125.1" y="245.7" width="2" height="1.8"/><rect x="126.4" y="245.7" width="2" height="1.8"/><rect x="127.6" y="240.5" width="2" height="1.8"/><rect x="128.9" y="240.5" width="2" height="1.8"/><rect x="130.1" y="245.7" width="2" height="1.8"/><rect x="131.4" y="240.5" width="2" height="1.8"/><rect x="132.7" y="250.9" width="2" height="1.8"/><rect x="133.9" y="245.7" width="2" height="1.8"/><rect x="135.2" y="240.5" width="2" height="1.8"/><rect x="136.4" y="240.5" width="2" height="1.8"/><rect x="137.7" y="245.7" width="2" height="1.8"/><rect x="138.9" y="240.5" width="2" height="1.8"/><rect x="140.2" y="245.7" width="2" height="1.8"/><rect x="141.5" y="240.5" width="2" height="1.8"/><rect x="142.7" y="240.5" width="2" height="1.8"/><rect x="144.0" y="245.7" width="2" height="1.8"/><rect x="145.2" y="240.5" width="2" height="1.8"/><rect x="146.5" y="245.7" width="2" height="1.8"/><rect x="147.7" y="245.7" width="2" height="1.8"/><rect x="149.0" y="240.5" width="2" height="1.8"/><rect x="150.3" y="245.7" width="2" height="1.8"/><rect x="151.5" y="240.5" width="2" height="1.8"/><rect x="152.8" y="240.5" width="2" height="1.8"/><rect x="154.0" y="240.5" width="2" height="1.8"/><rect x="155.3" y="230.2" width="2" height="1.8"/><rect x="156.5" y="230.2" width="2" height="1.8"/><rect x="157.8" y="230.2" width="2" height="1.8"/><rect x="159.1" y="230.2" width="2" height="1.8"/><rect x="160.3" y="230.2" width="2" height="1.8"/><rect x="161.6" y="230.2" width="2" height="1.8"/><rect x="162.8" y="225.0" width="2" height="1.8"/><rect x="164.1" y="225.0" width="2" height="1.8"/><rect x="165.3" y="230.2" width="2" height="1.8"/><rect x="166.6" y="235.4" width="2" height="1.8"/><rect x="167.9" y="230.2" width="2" height="1.8"/><rect x="169.1" y="235.4" width="2" height="1.8"/><rect x="170.4" y="230.2" width="2" height="1.8"/><rect x="171.6" y="214.7" width="2" height="1.8"/><rect x="172.9" y="235.4" width="2" height="1.8"/><rect x="174.1" y="219.9" width="2" height="1.8"/><rect x="175.4" y="219.9" width="2" height="1.8"/><rect x="176.7" y="219.9" width="2" height="1.8"/><rect x="177.9" y="225.0" width="2" height="1.8"/><rect x="179.2" y="214.7" width="2" height="1.8"/><rect x="180.4" y="219.9" width="2" height="1.8"/><rect x="181.7" y="225.0" width="2" height="1.8"/><rect x="182.9" y="219.9" width="2" height="1.8"/><rect x="184.2" y="230.2" width="2" height="1.8"/><rect x="185.4" y="219.9" width="2" height="1.8"/><rect x="186.7" y="214.7" width="2" height="1.8"/><rect x="188.0" y="225.0" width="2" height="1.8"/><rect x="189.2" y="219.9" width="2" height="1.8"/><rect x="190.5" y="219.9" width="2" height="1.8"/><rect x="191.7" y="225.0" width="2" height="1.8"/><rect x="193.0" y="219.9" width="2" height="1.8"/><rect x="194.2" y="225.0" width="2" height="1.8"/><rect x="195.5" y="230.2" width="2" height="1.8"/><rect x="196.8" y="230.2" width="2" height="1.8"/><rect x="198.0" y="230.2" width="2" height="1.8"/><rect x="199.3" y="230.2" width="2" height="1.8"/><rect x="200.5" y="225.0" width="2" height="1.8"/><rect x="201.8" y="235.4" width="2" height="1.8"/><rect x="203.0" y="225.0" width="2" height="1.8"/><rect x="204.3" y="225.0" width="2" height="1.8"/><rect x="205.6" y="214.7" width="2" height="1.8"/><rect x="206.8" y="230.2" width="2" height="1.8"/><rect x="208.1" y="214.7" width="2" height="1.8"/><rect x="209.3" y="209.6" width="2" height="1.8"/><rect x="210.6" y="214.7" width="2" height="1.8"/><rect x="211.8" y="209.6" width="2" height="1.8"/><rect x="213.1" y="209.6" width="2" height="1.8"/><rect x="214.4" y="204.4" width="2" height="1.8"/><rect x="215.6" y="214.7" width="2" height="1.8"/><rect x="216.9" y="209.6" width="2" height="1.8"/><rect x="218.1" y="209.6" width="2" height="1.8"/><rect x="219.4" y="214.7" width="2" height="1.8"/><rect x="220.6" y="209.6" width="2" height="1.8"/><rect x="221.9" y="214.7" width="2" height="1.8"/><rect x="223.2" y="204.4" width="2" height="1.8"/><rect x="224.4" y="204.4" width="2" height="1.8"/><rect x="225.7" y="209.6" width="2" height="1.8"/><rect x="226.9" y="209.6" width="2" height="1.8"/><rect x="228.2" y="204.4" width="2" height="1.8"/><rect x="229.4" y="204.4" width="2" height="1.8"/><rect x="230.7" y="194.1" width="2" height="1.8"/><rect x="232.0" y="199.2" width="2" height="1.8"/><rect x="233.2" y="204.4" width="2" height="1.8"/><rect x="234.5" y="204.4" width="2" height="1.8"/><rect x="235.7" y="204.4" width="2" height="1.8"/><rect x="237.0" y="199.2" width="2" height="1.8"/><rect x="238.2" y="199.2" width="2" height="1.8"/><rect x="239.5" y="194.1" width="2" height="1.8"/><rect x="240.8" y="204.4" width="2" height="1.8"/><rect x="242.0" y="199.2" width="2" height="1.8"/><rect x="243.3" y="204.4" width="2" height="1.8"/><rect x="244.5" y="199.2" width="2" height="1.8"/><rect x="245.8" y="199.2" width="2" height="1.8"/><rect x="247.0" y="214.7" width="2" height="1.8"/></g>
<text x="146" y="361.7" text-anchor="middle" class="al">Time (s)</text>
<text transform="translate(23.8 261.1) rotate(-90)" text-anchor="middle" class="al">Rotary speed (r/s)</text>
<text transform="translate(0.9 196.8) scale(0.89 1)" class="pl">(c)</text>
<rect x="298.5" y="189.8" width="216" height="142.2" fill="none" stroke="#000" stroke-width="1.8"/>
<path d="M298.5 332V335.5M298.5 189.8V192.7M341.7 332V335.5M341.7 189.8V192.7M384.9 332V335.5M384.9 189.8V192.7M428.1 332V335.5M428.1 189.8V192.7M471.3 332V335.5M471.3 189.8V192.7M514.5 332V335.5M514.5 189.8V192.7M320.1 332V333.7M320.1 189.8V191.1M363.3 332V333.7M363.3 189.8V191.1M406.5 332V333.7M406.5 189.8V191.1M449.7 332V333.7M449.7 189.8V191.1M492.9 332V333.7M492.9 189.8V191.1M298.5 318.9H295M514.5 318.9H511.6M298.5 293.08H295M514.5 293.08H511.6M298.5 267.26H295M514.5 267.26H511.6M298.5 241.44H295M514.5 241.44H511.6M298.5 215.62H295M514.5 215.62H511.6M298.5 189.8H295M514.5 189.8H511.6M298.5 331.81H296.8M514.5 331.81H513.2M298.5 305.99H296.8M514.5 305.99H513.2M298.5 280.17H296.8M514.5 280.17H513.2M298.5 254.35H296.8M514.5 254.35H513.2M298.5 228.53H296.8M514.5 228.53H513.2M298.5 202.71H296.8M514.5 202.71H513.2" stroke="#000" stroke-width="1.3" fill="none"/>
<text x="298.5" y="345.2" text-anchor="middle" class="tk">40</text>
<text x="341.7" y="345.2" text-anchor="middle" class="tk">50</text>
<text x="384.9" y="345.2" text-anchor="middle" class="tk">60</text>
<text x="428.1" y="345.2" text-anchor="middle" class="tk">70</text>
<text x="471.3" y="345.2" text-anchor="middle" class="tk">80</text>
<text x="514.5" y="345.2" text-anchor="middle" class="tk">90</text>
<text x="293" y="321.8" text-anchor="end" class="tk">4</text>
<text x="293" y="295.98" text-anchor="end" class="tk">5</text>
<text x="293" y="270.16" text-anchor="end" class="tk">6</text>
<text x="293" y="244.34" text-anchor="end" class="tk">7</text>
<text x="293" y="218.52" text-anchor="end" class="tk">8</text>
<text x="293" y="192.7" text-anchor="end" class="tk">9</text>
<path d="M323.6 280.9L487.7 203.5" stroke="#c41e3a" stroke-width="1.4" stroke-dasharray="2.6 1.9" fill="none"/>
<path d="M323.6 280.2V291.5M321.4 280.2h4.4M321.4 291.5h4.4M363.3 254.9V266.7M361.1 254.9h4.4M361.1 266.7h4.4M379.3 243.8V256.7M377.1 243.8h4.4M377.1 256.7h4.4M389.7 243.5V253.8M387.5 243.5h4.4M387.5 253.8h4.4M395.7 243.0V253.3M393.5 243.0h4.4M393.5 253.3h4.4M406.7 238.1V245.8M404.5 238.1h4.4M404.5 245.8h4.4M439.3 225.7V236.0M437.1 225.7h4.4M437.1 236.0h4.4M444.5 219.8V230.1M442.3 219.8h4.4M442.3 230.1h4.4M449.7 215.6V225.9M447.5 215.6h4.4M447.5 225.9h4.4M466.1 208.4V214.6M463.9 208.4h4.4M463.9 214.6h4.4M487.7 196.8V207.1M485.5 196.8h4.4M485.5 207.1h4.4" stroke="#111" stroke-width="1" fill="none"/>
<rect x="322.1" y="284.4" width="3" height="3" fill="#000"/>
<rect x="361.8" y="259.3" width="3" height="3" fill="#000"/>
<rect x="377.8" y="248.7" width="3" height="3" fill="#000"/>
<rect x="388.2" y="247.2" width="3" height="3" fill="#000"/>
<rect x="394.2" y="246.7" width="3" height="3" fill="#000"/>
<rect x="405.2" y="240.5" width="3" height="3" fill="#000"/>
<rect x="437.8" y="229.4" width="3" height="3" fill="#000"/>
<rect x="443.0" y="223.4" width="3" height="3" fill="#000"/>
<rect x="448.2" y="219.3" width="3" height="3" fill="#000"/>
<rect x="464.6" y="210.0" width="3" height="3" fill="#000"/>
<rect x="486.2" y="200.4" width="3" height="3" fill="#000"/>
<path d="M305.8 203.4H329.5" stroke="#c81e3c" stroke-width="1.5" stroke-dasharray="4 2.6"/>
<rect x="316.7" y="214.9" width="3.2" height="3.2" fill="#000"/>
<text x="332" y="206.6" class="lg">Fitting line</text>
<text x="332" y="219.6" class="lg">Mean value</text>
<text x="407" y="361.5" text-anchor="middle" class="al">Flow velocity (cm/s)</text>
<text transform="translate(284.5 264.2) rotate(-90)" text-anchor="middle" class="al">Rotary speed (r/s)</text>
<text transform="translate(262.2 196.8) scale(0.89 1)" class="pl">(d)</text>
</svg></body></html>
